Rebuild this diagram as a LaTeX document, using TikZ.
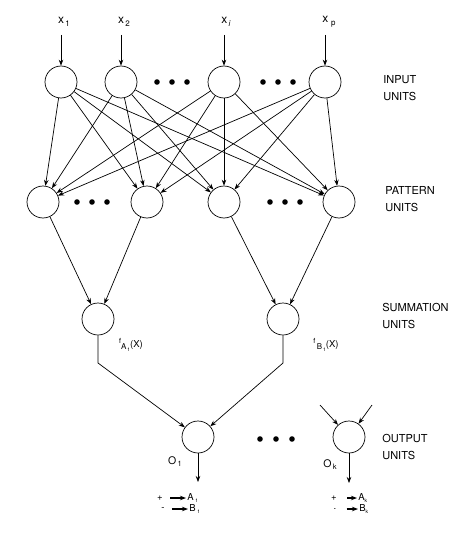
\documentclass[tikz,border=0pt]{standalone}
\usepackage{fontspec}
\setmainfont{TeX Gyre Heros}
\usetikzlibrary{arrows.meta}

\begin{document}
\begin{tikzpicture}[x=1pt,y=-1pt, line width=.7pt, >={Stealth[length=6pt,width=4.5pt]},
  unit/.style={draw, circle, minimum size=32pt, inner sep=0},
  side/.style={align=left, anchor=west, font=\fontsize{11}{16.5}\selectfont, inner sep=0},
  xlab/.style={font=\fontsize{12}{12}\selectfont, inner sep=1pt},
  small/.style={font=\fontsize{9.5}{10}\selectfont, inner sep=1pt}]
\useasboundingbox (0,0) rectangle (474,535);
\foreach \n/\x in {1/61,2/121,3/224,4/325} \node[unit] (in\n) at (\x,82) {};
\foreach \n/\x in {1/43,2/147,3/224,4/339} \node[unit] (pat\n) at (\x,202) {};
\node[unit] (sum1) at (98,319) {};
\node[unit] (sum2) at (283,319) {};
\node[unit] (out1) at (198,437) {};
\node[unit] (out2) at (349,437) {};
\foreach \x in {157,172,187,263,278,293} \fill (\x,82) circle (2.8pt);
\foreach \x in {77,92,107,270,285,300} \fill (\x,202) circle (2.8pt);
\foreach \x in {260,276,292} \fill (\x,439) circle (2.8pt);
% inputs
\node[xlab] (x1) at (64,22) {x\raisebox{-3pt}{\fontsize{8}{8}\selectfont\,1}};
\node[xlab] (x2) at (124,22) {x\raisebox{-3pt}{\fontsize{8}{8}\selectfont\,2}};
\node[xlab] (x3) at (226,22) {x\raisebox{-3pt}{\fontsize{8}{8}\selectfont\,\textit{i}}};
\node[xlab] (x4) at (329,22) {x\raisebox{-3pt}{\fontsize{8}{8}\selectfont\,\,p}};
\foreach \n in {1,...,4} \draw[->] (in\n |- 0,35) -- (in\n);
\foreach \i in {1,...,4} \foreach \j in {1,...,4} \draw[->] (in\i) -- (pat\j);
\foreach \j in {1,2} \draw[->] (pat\j) -- (sum1);
\foreach \j in {3,4} \draw[->] (pat\j) -- (sum2);
\coordinate (bend1) at (98,363);
\coordinate (bend2) at (283,363);
\draw[->] (sum1) -- (bend1) -- (out1);
\draw[->] (sum2) -- (bend2) -- (out1);
\node[small] (fa) at (131,345) {\raisebox{4pt}{\fontsize{7}{7}\selectfont f}\raisebox{-2pt}{\fontsize{8}{8}\selectfont A\raisebox{-1.5pt}{\fontsize{5}{5}\selectfont\,1}}(X)};
\node[small] (fb) at (326,345) {\raisebox{4pt}{\fontsize{7}{7}\selectfont f}\,\raisebox{-2pt}{\fontsize{8}{8}\selectfont B\raisebox{-1.5pt}{\fontsize{5}{5}\selectfont\,1}}(X)};
% outputs
\coordinate (in2a) at (320,405);
\coordinate (in2b) at (372,405);
\draw[->] (in2a) -- (out2);
\draw[->] (in2b) -- (out2);
\coordinate (o1end) at (198,482);
\coordinate (o2end) at (349,483);
\draw[->] (out1) -- (o1end);
\draw[->] (out2) -- (o2end);
\node[small, font=\fontsize{10.5}{10}\selectfont] (o1) at (175,462) {O\raisebox{-2pt}{\fontsize{7.5}{7}\selectfont\,1}};
\node[small, font=\fontsize{10.5}{10}\selectfont] (ok) at (330,465) {O\raisebox{-2pt}{\fontsize{7.5}{7}\selectfont\,k}};
\node[small] (p1) at (160,498) {+};
\node[small, anchor=west] (a1) at (186,498) {A\raisebox{-2pt}{\fontsize{5}{5}\selectfont\,\,1}};
\node[small] (m1) at (163,509) {-};
\node[small, anchor=west] (b1) at (188,509) {B\raisebox{-2pt}{\fontsize{5}{5}\selectfont\,\,1}};
\node[small] (p2) at (334,498) {+};
\node[small, anchor=west] (a2) at (357,498) {A\raisebox{-2pt}{\fontsize{5}{5}\selectfont k}};
\node[small] (m2) at (335,509) {.};
\node[small, anchor=west] (b2) at (358,509) {B\raisebox{-2pt}{\fontsize{5}{5}\selectfont k}};
\foreach \a/\b in {p1/a1,m1/b1} \draw[->, line width=1.3pt, shorten <=6pt] (\a) -- (\b);
\foreach \a/\b in {p2/a2,m2/b2} \draw[->, line width=1.3pt, shorten <=9pt] (\a) -- (\b);
% layer names
\node[side] (lin) at (383,88) {INPUT\\UNITS};
\node[side] (lpat) at (385,199) {PATTERN\\UNITS};
\node[side] (lsum) at (382,316) {SUMMATION\\UNITS};
\node[side] (lout) at (382,447) {OUTPUT\\UNITS};
\end{tikzpicture}
\end{document}
